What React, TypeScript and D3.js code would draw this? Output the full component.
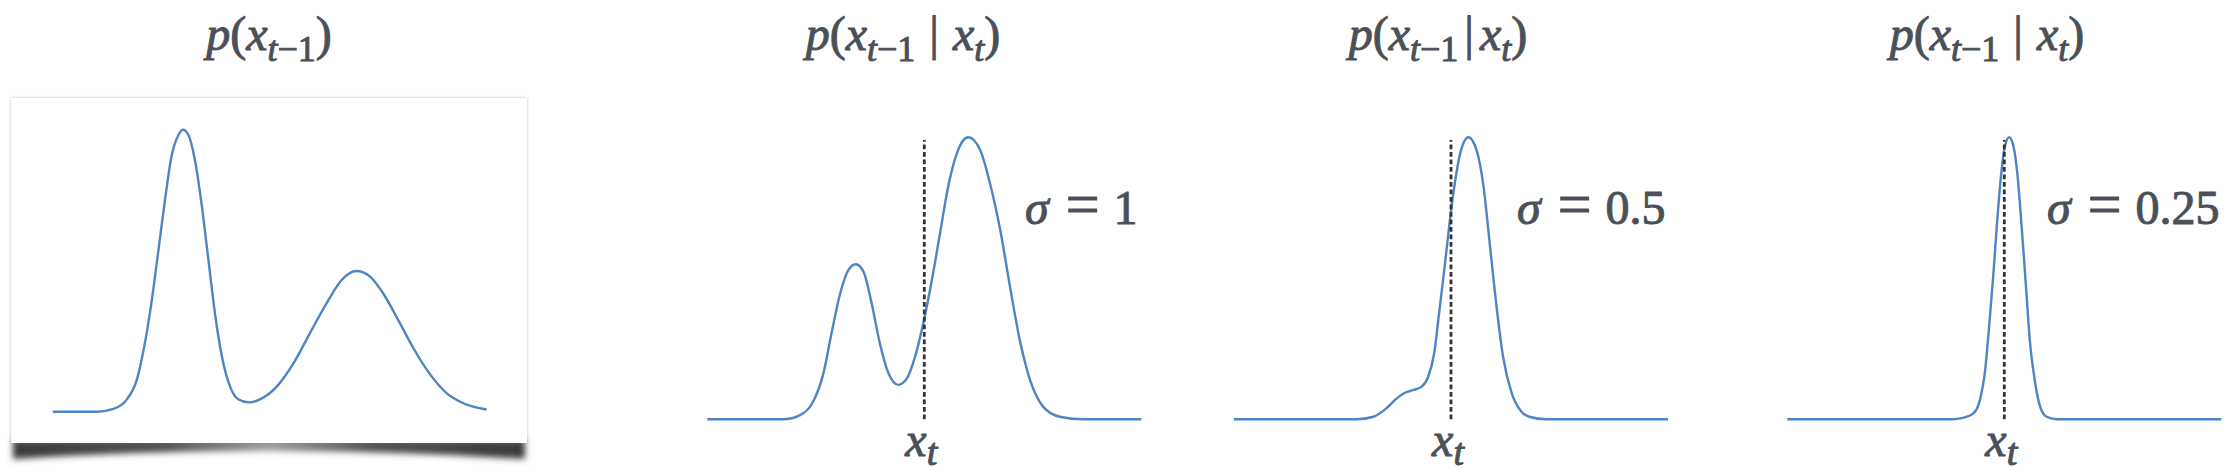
import * as d3 from "d3";

// p(x_{t-1}) : (x in [-4, 4], density relative to the tallest peak)
const priorX = [-4, -3.19, -2.88, -2.64, -2.45, -2.3, -2.18, -2.05, -1.93, -1.81, -1.68, -1.6, -1.5, -1.38, -1.25, -1.13, -1.01, -0.88, -0.73, -0.58, -0.39, -0.18, 0.13, 0.44, 0.74, 1.05, 1.33, 1.6, 1.85, 2.09, 2.4, 2.65, 2.95, 3.26, 3.57, 4];
const priorY = [0, 0, 0.01, 0.042, 0.113, 0.244, 0.386, 0.574, 0.751, 0.905, 0.982, 1, 0.982, 0.894, 0.728, 0.539, 0.35, 0.195, 0.089, 0.044, 0.033, 0.044, 0.089, 0.172, 0.278, 0.385, 0.468, 0.499, 0.479, 0.42, 0.314, 0.225, 0.134, 0.066, 0.03, 0.008];

// p(x_{t-1} | x_t) with sigma = 1
const cond1X = [-4, -2.6, -2.29, -2.05, -1.86, -1.71, -1.55, -1.4, -1.26, -1.12, -0.97, -0.82, -0.66, -0.48, -0.32, -0.17, -0.02, 0.14, 0.29, 0.44, 0.6, 0.81, 1.03, 1.21, 1.4, 1.58, 1.76, 1.95, 2.19, 2.5, 2.93, 4];
const cond1Y = [0, 0, 0.015, 0.062, 0.163, 0.305, 0.447, 0.529, 0.55, 0.523, 0.411, 0.27, 0.163, 0.122, 0.145, 0.222, 0.34, 0.494, 0.66, 0.825, 0.943, 1, 0.955, 0.837, 0.671, 0.47, 0.281, 0.139, 0.045, 0.009, 0, 0];

// sigma = 0.5
const cond05X = [-4, -1.74, -1.43, -1.19, -1.0, -0.85, -0.69, -0.54, -0.42, -0.31, -0.22, -0.11, -0.02, 0.07, 0.17, 0.32, 0.47, 0.6, 0.72, 0.84, 0.96, 1.12, 1.3, 1.44, 1.75, 4];
const cond05Y = [0, 0, 0.009, 0.039, 0.074, 0.094, 0.104, 0.116, 0.151, 0.234, 0.376, 0.553, 0.707, 0.837, 0.943, 1, 0.955, 0.825, 0.612, 0.399, 0.222, 0.092, 0.027, 0.009, 0, 0];

// sigma = 0.25
const cond025X = [-4, -0.95, -0.79, -0.57, -0.45, -0.36, -0.28, -0.2, -0.13, -0.05, 0.01, 0.09, 0.17, 0.24, 0.32, 0.4, 0.47, 0.57, 0.66, 0.78, 0.97, 4];
const cond025Y = [0, 0, 0.004, 0.021, 0.068, 0.163, 0.328, 0.518, 0.707, 0.884, 0.967, 1, 0.967, 0.872, 0.683, 0.47, 0.281, 0.128, 0.045, 0.009, 0, 0];

const sigmaLabels = ["1", "0.5", "0.25"];
const xt = 0; // the conditioning value x_t
const markerTop = 0.99; // height reached by the dashed x_t marker

const W = 2232;
const H = 472;
const PLOT_W = 434;
const PLOT_H = 282;
const FONT = '"Liberation Serif", "Times New Roman", Times, "DejaVu Serif", serif';
const INK = "#4b5058";
const CURVE = "#4d84c4";

const panels = [
  { left: 52.7, base: 411.7, xs: priorX, ys: priorY, titleX: 269 },
  { left: 707.3, base: 419.3, xs: cond1X, ys: cond1Y, titleX: 903, sigmaX: 1025, gap: 14, sigma: sigmaLabels[0] },
  { left: 1234, base: 419.3, xs: cond05X, ys: cond05Y, titleX: 1438, sigmaX: 1517, gap: 6, sigma: sigmaLabels[1] },
  { left: 1787.3, base: 419.3, xs: cond025X, ys: cond025Y, titleX: 1987, sigmaX: 2047, gap: 14, sigma: sigmaLabels[2] },
];

// a light outline gives the glyphs the heavier look of the equation font
const textStyle = { fontFamily: FONT, fill: INK, stroke: INK, strokeWidth: 1, strokeLinejoin: "round" as const };

function Panel({ p, index }: { p: any; index: number }) {
  const x = d3.scaleLinear().domain([-4, 4]).range([p.left, p.left + PLOT_W]);
  const y = d3.scaleLinear().domain([0, 1]).range([p.base, p.base - PLOT_H]);
  const pts: [number, number][] = p.xs.map((v: number, i: number) => [v, p.ys[i]]);
  const line = d3
    .line<[number, number]>()
    .x((d) => x(d[0]))
    .y((d) => y(d[1]))
    .curve(d3.curveMonotoneX);

  const isPrior = index === 0;

  return (
    <g>
      {/* title */}
      <text x={p.titleX} y={50} textAnchor="middle" fontSize={48} style={textStyle}>
        <tspan fontStyle="italic">p</tspan>
        <tspan>(</tspan>
        <tspan fontStyle="italic">x</tspan>
        <tspan fontStyle="italic" fontSize={36} dy={11}>t</tspan>
        <tspan fontSize={36}>−1</tspan>
        {isPrior ? (
          <tspan dy={-11}>)</tspan>
        ) : (
          <>
            <tspan dy={-11} dx={p.gap}>|</tspan>
            <tspan fontStyle="italic" dx={p.gap}>x</tspan>
            <tspan fontStyle="italic" fontSize={36} dy={11}>t</tspan>
            <tspan dy={-11}>)</tspan>
          </>
        )}
      </text>

      <path d={line(pts) || ""} fill="none" stroke={CURVE} strokeWidth={2.4} />

      {!isPrior && (
        <>
          <line
            x1={x(xt)}
            x2={x(xt)}
            y1={y(0)}
            y2={y(markerTop)}
            stroke="#333"
            strokeWidth={2.8}
            strokeDasharray="4.7,2.8"
          />
          <text x={x(xt) - 3} y={456} textAnchor="middle" fontSize={48} style={textStyle}>
            <tspan fontStyle="italic">x</tspan>
            <tspan fontStyle="italic" fontSize={38} dy={9}>t</tspan>
          </text>
          <text x={p.sigmaX} y={224} fontSize={48} style={textStyle}>
            <tspan fontStyle="italic">σ</tspan>
            <tspan dx={17} fontSize={60}>=</tspan>
            <tspan dx={14}>{p.sigma}</tspan>
          </text>
        </>
      )}
    </g>
  );
}

export default function App() {
  return (
    <svg
      width={W}
      height={H}
      viewBox={`0 0 ${W} ${H}`}
      style={{ position: "absolute", left: 0, top: 0, display: "block", background: "#fff" }}
    >
      <defs>
        <filter id="curlBlur" x="-5%" y="-200%" width="110%" height="500%">
          <feGaussianBlur stdDeviation="3" />
        </filter>
        <filter id="cardEdge" x="-5%" y="-5%" width="110%" height="110%">
          <feDropShadow dx="0" dy="0" stdDeviation="1.5" floodColor="#000" floodOpacity="0.25" />
        </filter>
        <linearGradient id="curlFill" x1="0" x2="1" y1="0" y2="0">
          <stop offset="0" stopColor="#3a3a3a" />
          <stop offset="0.3" stopColor="#505050" />
          <stop offset="0.5" stopColor="#9a9a9a" />
          <stop offset="0.7" stopColor="#505050" />
          <stop offset="1" stopColor="#3a3a3a" />
        </linearGradient>
      </defs>

      {/* paper card behind the prior */}
      <path d="M13,440 L525,440 L525,459 Q269,443 13,459 Z" fill="url(#curlFill)" filter="url(#curlBlur)" />
      <rect x={11} y={98} width={516} height={345} fill="#fff" filter="url(#cardEdge)" />

      {panels.map((p, i) => (
        <Panel key={i} p={p} index={i} />
      ))}
    </svg>
  );
}
